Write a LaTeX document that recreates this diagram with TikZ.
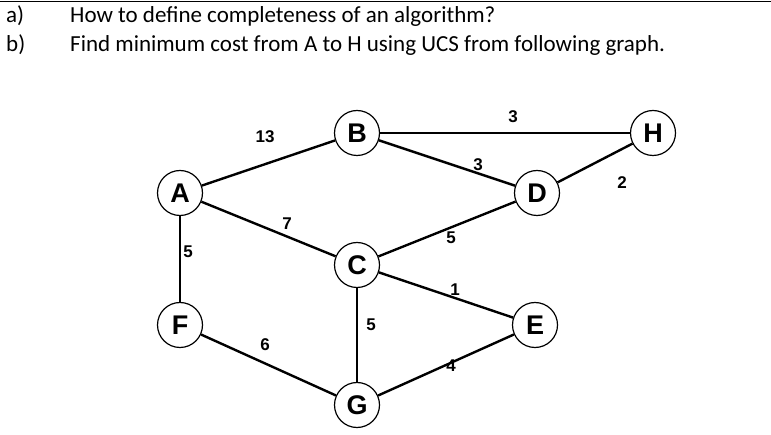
\documentclass[tikz,border=0pt]{standalone}
\usepackage{fontspec}
\setmainfont{Carlito}
\newfontfamily\arialf{Liberation Sans}
\begin{document}
\begin{tikzpicture}[x=1pt,y=-1pt,
  vert/.style={circle,draw,line width=1.2pt,fill=white,minimum size=45pt,inner sep=0pt,font=\arialf\bfseries\fontsize{27}{29}\selectfont},
  wlab/.style={font=\arialf\bfseries\fontsize{17}{19}\selectfont,inner sep=0pt},
  edge/.style={line width=2.4pt},
  txt/.style={anchor=west,inner sep=0pt,font=\fontsize{23}{26}\selectfont}]
\useasboundingbox (0,0) rectangle (771,435);
\draw[line width=0.8pt] (0,1) -- (771,1);
\node[txt] (ta) at (6,16) {a)};
\node[txt] (tat) at (70,16) {How to define completeness of an algorithm?};
\node[txt] (tb) at (6,45) {b)};
\node[txt] (tbt) at (70,45) {Find minimum cost from A to H using UCS from following graph.};
\node[vert] (A) at (180,193) {A};
\node[vert] (B) at (357,133) {B};
\node[vert] (H) at (653,133) {H};
\node[vert] (D) at (537,193) {D};
\node[vert] (C) at (357,265) {C};
\node[vert] (F) at (180,325) {F};
\node[vert] (E) at (535,325) {E};
\node[vert] (G) at (357,405) {G};
\draw[edge] (A) -- (B);
\draw[edge] (B) -- (H);
\draw[edge] (B) -- (D);
\draw[edge] (D) -- (H);
\draw[edge] (A) -- (C);
\draw[edge] (C) -- (D);
\draw[edge] (C) -- (E);
\draw[edge] (A) -- (F);
\draw[edge] (F) -- (G);
\draw[edge] (C) -- (G);
\draw[edge] (G) -- (E);
\node[wlab] (l1) at (265,137) {13};
\node[wlab] (l2) at (513,117) {3};
\node[wlab] (l3) at (478,165) {3};
\node[wlab] (l4) at (622,183) {2};
\node[wlab] (l5) at (287,224) {7};
\node[wlab] (l6) at (451,238) {5};
\node[wlab] (l7) at (188,252) {5};
\node[wlab] (l8) at (455,290) {1};
\node[wlab] (l9) at (265,345) {6};
\node[wlab] (l10) at (371,325) {5};
\node[wlab] (l11) at (451,366) {4};
\end{tikzpicture}
\end{document}
